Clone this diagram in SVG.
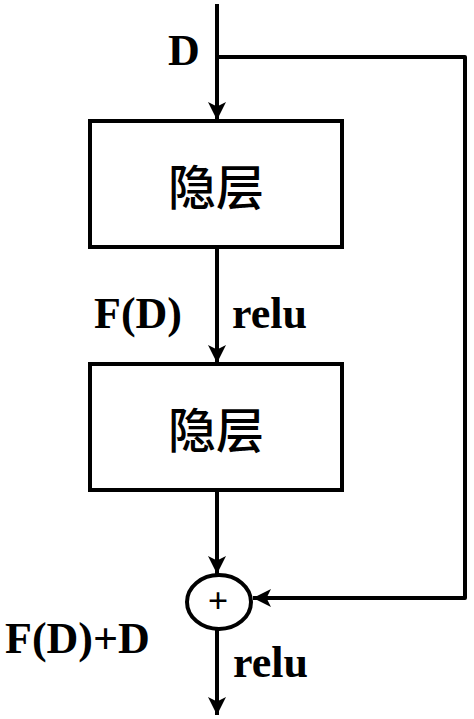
<svg xmlns="http://www.w3.org/2000/svg" width="474" height="719" viewBox="0 0 474 719">
  <style>
    .box { fill: #fff; stroke: #000; stroke-width: 4; }
    .line { fill: none; stroke: #000; stroke-width: 4; stroke-linejoin: round; }
    .lbl { font-family: "Liberation Serif", "Times New Roman", serif; font-weight: bold; font-size: 44px; fill: #000; }
    .cjk { font-family: "Noto Sans CJK SC", "Noto Sans", sans-serif; font-size: 48px; font-weight: 500; fill: #000; }
    .plus { font-family: "Liberation Serif", serif; font-weight: bold; font-size: 36px; fill: #000; }
  </style>
  <defs>
    <marker id="arrow" markerUnits="userSpaceOnUse" markerWidth="18" markerHeight="18" refX="16" refY="8" orient="auto" viewBox="0 0 16 16">
      <path d="M0,0 L16,8 L0,16 L4,8 z" fill="#000"/>
    </marker>
  </defs>

  <g id="connectors">
    <line class="line" x1="217" y1="4" x2="217" y2="120" marker-end="url(#arrow)"/>
    <polyline class="line" points="217,57 465,57 465,598 253,598" marker-end="url(#arrow)"/>
    <line class="line" x1="217" y1="247" x2="217" y2="363" marker-end="url(#arrow)"/>
    <line class="line" x1="217" y1="490" x2="217" y2="574" marker-end="url(#arrow)"/>
    <line class="line" x1="217" y1="630" x2="217" y2="715" marker-end="url(#arrow)"/>
  </g>

  <g id="node-hidden1">
    <rect class="box" x="90" y="121" width="252" height="126"/>
    <text class="cjk" x="216" y="184" text-anchor="middle" dominant-baseline="central">隐层</text>
  </g>

  <g id="node-hidden2">
    <rect class="box" x="90" y="364" width="252" height="126"/>
    <text class="cjk" x="216" y="427" text-anchor="middle" dominant-baseline="central">隐层</text>
  </g>

  <g id="node-sum">
    <ellipse class="box" cx="219" cy="602" rx="32" ry="27"/>
    <text class="plus" x="218" y="613" text-anchor="middle">+</text>
  </g>

  <g id="labels">
    <text class="lbl" x="168" y="65">D</text>
    <text class="lbl" x="94" y="328">F(D)</text>
    <text class="lbl" x="232" y="328">relu</text>
    <text class="lbl" x="5" y="653">F(D)+D</text>
    <text class="lbl" x="233" y="677">relu</text>
  </g>
</svg>
